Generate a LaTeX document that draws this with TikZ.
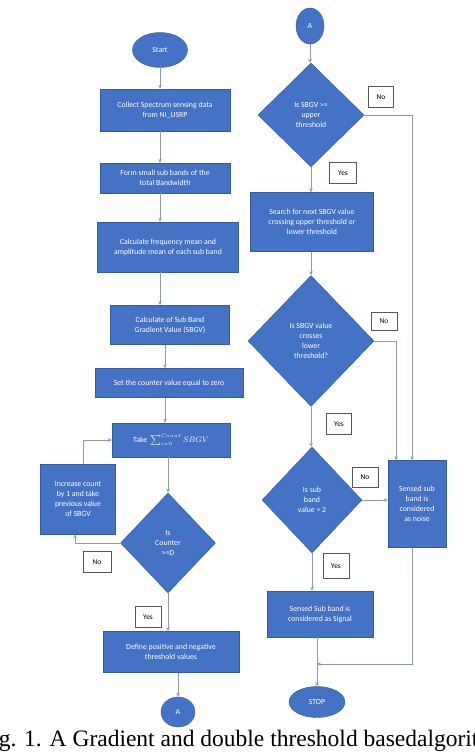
\documentclass[tikz,border=0pt]{standalone}
\usepackage{fontspec}
\setmainfont{Carlito}
\newfontfamily\capfont{Liberation Serif}
\usetikzlibrary{shapes.geometric,arrows.meta}
\definecolor{boxblue}{RGB}{68,114,196}
\definecolor{boxedge}{RGB}{52,90,160}
\definecolor{linegray}{RGB}{140,155,182}
\tikzset{
    proc/.style={rectangle,fill=boxblue,draw=boxedge,line width=0.4pt,text=white,
        font=\fontsize{7.8}{10}\selectfont,align=center,inner sep=1pt},
    term/.style={ellipse,fill=boxblue,draw=boxedge,line width=0.4pt,text=white,
        font=\fontsize{7.8}{10}\selectfont,inner sep=0pt},
    decide/.style={diamond,aspect=1,fill=boxblue,draw=boxedge,line width=0.4pt,text=white,
        font=\fontsize{7.8}{10}\selectfont,align=center,inner sep=0pt},
    tag/.style={rectangle,draw=black!65,fill=white,line width=0.6pt,
        font=\fontsize{7.4}{8}\selectfont,inner sep=0pt},
    arr/.style={draw=linegray,line width=1pt,-{Stealth[length=4pt,width=3.6pt]}}
}
\begin{document}
\begin{tikzpicture}[x=1pt,y=-1pt]
            \useasboundingbox (0,0) rectangle (474,752);
            \clip (0,0) rectangle (474,752);
            \node[term,minimum width=55,minimum height=35] (start) at (160,50) {Start};
            \node[proc,minimum width=130,minimum height=42] (collect) at (165,110) {Collect Spectrum sensing data\\from NI\_USRP};
            \node[proc,minimum width=130,minimum height=30] (form) at (165,178) {Form small sub bands of the\\total Bandwidth};
            \node[proc,minimum width=141,minimum height=50] (calc) at (168,247) {Calculate frequency mean and\\amplitude mean of each sub band};
            \node[proc,minimum width=119,minimum height=39] (sbgv) at (170,325) {Calculate of Sub Band\\Gradient Value (SBGV)};
            \node[proc,minimum width=148,minimum height=29] (zero) at (169,383) {Set the counter value equal to zero};
            \node[proc,minimum width=118,minimum height=34] (take) at (171,440) {Take\, $\sum_{i=0}^{Count} SBGV$};
            \node[proc,minimum width=75,minimum height=70] (incr) at (78,499) {Increase count\\by 1 and take\\previous value\\of SBGV};
            \node[decide,minimum width=95,minimum height=100] (isd) at (168,543) {Is\\Counter\\>=D};
            \node[proc,minimum width=136,minimum height=41] (define) at (171,652) {Define positive and negative\\threshold values};
            \node[term,minimum width=34,minimum height=30] (ca) at (178,712) {A};
            \node[term,minimum width=28,minimum height=36] (cb) at (310,26) {A};
            \node[decide,minimum width=106,minimum height=104] (upper) at (311,115) {Is SBGV >=\\upper\\threshold};
            \node[proc,minimum width=123,minimum height=59] (search) at (312,222) {Search for next SBGV value\\crossing upper threshold or\\lower threshold};
            \node[decide,minimum width=126,minimum height=131] (lower) at (311,341) {Is SBGV value\\crosses\\lower\\threshold?};
            \node[decide,minimum width=100,minimum height=106] (subval) at (312,500) {Is sub\\band\\value > 2};
            \node[proc,minimum width=58,minimum height=87] (noise) at (417,504) {Sensed sub\\band is\\considered\\as noise};
            \node[proc,minimum width=106,minimum height=46] (signal) at (320,614) {Sensed Sub band is\\considered as Signal};
            \node[term,minimum width=56,minimum height=31] (stop) at (317,702) {STOP};
            \node[tag,minimum width=28,minimum height=21] (no1) at (97,562) {No};
            \node[tag,minimum width=26,minimum height=21] (yes1) at (148,617) {Yes};
            \node[tag,minimum width=25,minimum height=21] (no2) at (381,97) {No};
            \node[tag,minimum width=27,minimum height=21] (yes2) at (343,173) {Yes};
            \node[tag,minimum width=26,minimum height=18] (no3) at (384,321) {No};
            \node[tag,minimum width=25,minimum height=21] (yes3) at (339,424) {Yes};
            \node[tag,minimum width=26,minimum height=20] (no4) at (365,477) {No};
            \node[tag,minimum width=26,minimum height=25] (yes4) at (336,566) {Yes};
            \coordinate (merge) at (317,664);
            \draw[arr] (start.south) -- (start.south |- collect.north);
            \draw[arr] (collect.south -| start) -- (form.north -| start);
            \draw[arr] (form.south -| start) -- (calc.north -| start);
            \draw[arr] (calc.south -| start) -- (sbgv.north -| start);
            \draw[arr] ([xshift=-5pt]sbgv.south) -- ([xshift=-5pt]sbgv.south |- zero.north);
            \draw[arr] ([xshift=-5pt]sbgv.south |- zero.south) -- ([xshift=-5pt]sbgv.south |- take.north);
            \draw[arr] (take.south -| isd) -- (isd.north);
            \draw[arr] (isd.south) -- (isd.south |- define.north);
            \draw[arr] (define.south -| ca) -- (ca.north);
            \draw[arr] (isd.west) -| ([xshift=-3pt]incr.south);
            \draw[arr] ([xshift=5pt]incr.north) |- (take.west);
            \draw[arr] (cb.south) -- (cb.south |- upper.north);
            \draw[arr] (upper.south) -- (upper.south |- search.north);
            \draw[arr] (upper.east) -| ([xshift=-5pt]noise.north);
            \draw[arr] (search.south -| lower) -- (lower.north);
            \draw[arr] (lower.east) -| ([xshift=-21pt]noise.north);
            \draw[arr] (lower.south) -- (lower.south |- subval.north);
            \draw[arr] (subval.east) -- (subval.east -| noise.west);
            \draw[arr] (subval.south) -- (subval.south |- signal.north);
            \draw[arr] (signal.south -| stop) -- (stop.north);
            \draw[arr] ([xshift=-5pt]noise.south) |- (merge);
            \node[font=\capfont\fontsize{23.5}{25}\selectfont,anchor=base west,inner sep=0pt] (caption) at (-21,746) {Fig. 1. A Gradient and double threshold basedalgorithm};
        \end{tikzpicture}
\end{document}
